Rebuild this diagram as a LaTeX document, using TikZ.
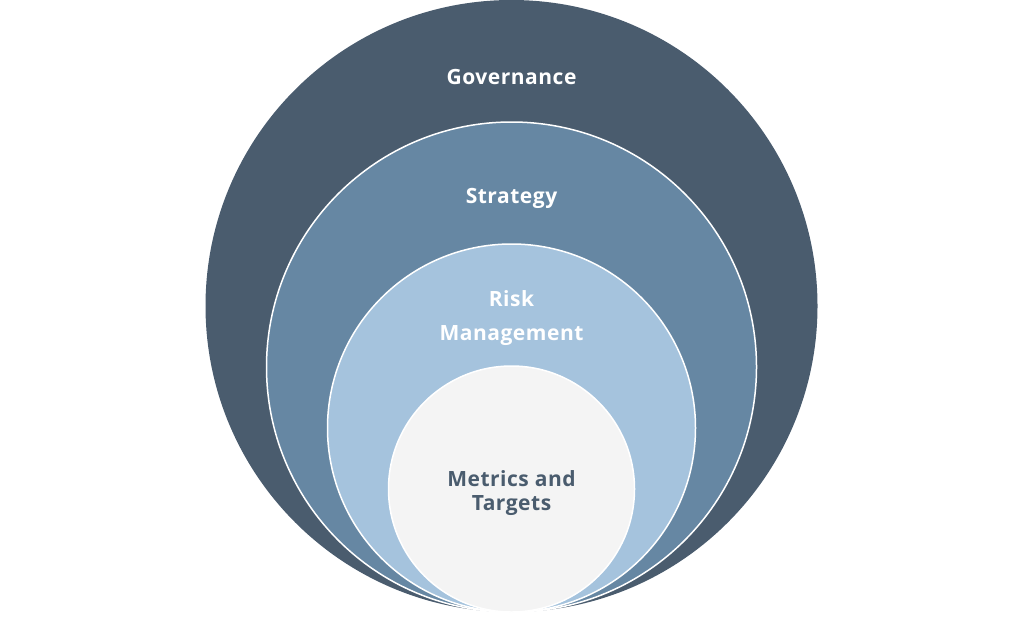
\documentclass[tikz,border=0pt]{standalone}
\usepackage{fontspec}
\setmainfont{Open Sans}[LetterSpace=2.5]
\definecolor{govc}{HTML}{4A5C6E}
\definecolor{strc}{HTML}{6687A3}
\definecolor{riskc}{HTML}{A5C3DD}
\definecolor{metc}{HTML}{F4F4F4}
\begin{document}
\begin{tikzpicture}[x=1pt,y=-1pt,
  ring/.style={circle,draw=white,line width=1.5pt,inner sep=0pt},
  lbl/.style={font=\fontsize{21}{24}\selectfont\bfseries,align=center,text=white}]
\useasboundingbox (0,0) rectangle (1024,616);
\node[circle,fill=govc,inner sep=0pt,minimum size=612pt] (gov) at (511.5,306) {};
\node[ring,fill=strc,minimum size=490pt] (str) at (511.5,367) {};
\node[ring,fill=riskc,minimum size=368pt] (risk) at (511.5,428) {};
\node[ring,fill=metc,minimum size=246pt] (met) at (511.5,489) {};
\node[lbl] (govt) at (511.5,77) {Governance};
\node[lbl] (strt) at (511.5,198) {Strategy};
\node[lbl,font=\fontsize{21}{34}\selectfont\bfseries] (riskt) at (511.5,318) {Risk\\Management};
\node[lbl,text=govc,font=\fontsize{21}{24}\selectfont\bfseries] (mett) at (511.5,493) {Metrics and\\Targets};
\end{tikzpicture}
\end{document}
